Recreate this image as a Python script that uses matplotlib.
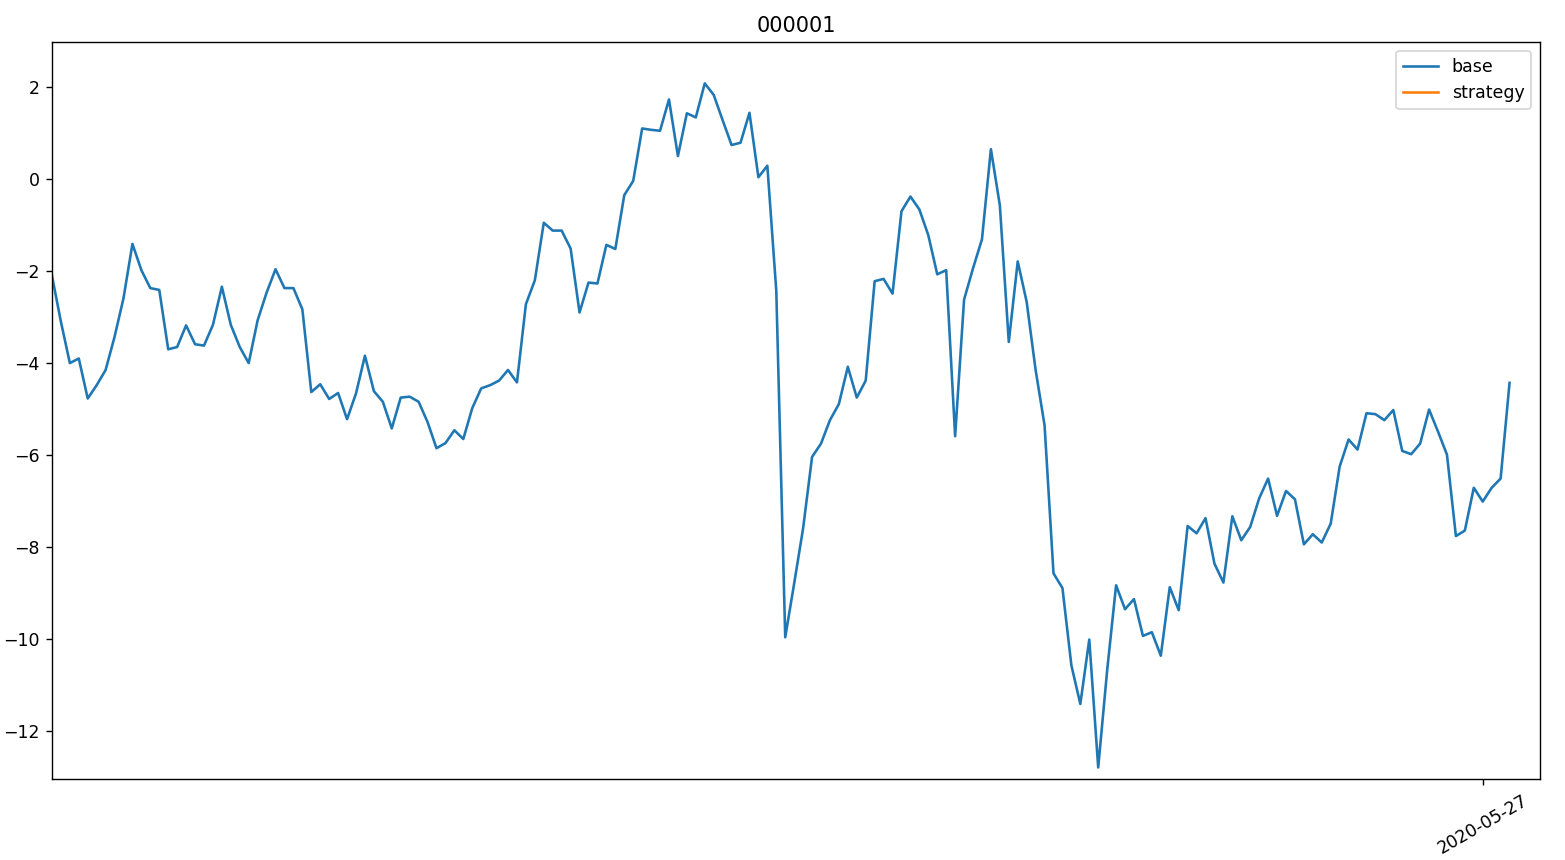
import matplotlib
matplotlib.use("Agg")
import matplotlib.pyplot as plt

# cumulative return of the base series (one value per trading day)
base = [
    -2.10, -3.10, -4.00, -3.90, -4.77, -4.48, -4.15, -3.43, -2.59, -1.41,
    -1.98, -2.37, -2.41, -3.70, -3.65, -3.18, -3.59, -3.62, -3.17, -2.34,
    -3.17, -3.65, -4.00, -3.07, -2.47, -1.96, -2.37, -2.37, -2.83, -4.63,
    -4.46, -4.78, -4.65, -5.22, -4.66, -3.84, -4.61, -4.84, -5.42, -4.75,
    -4.73, -4.84, -5.28, -5.85, -5.74, -5.46, -5.65, -4.98, -4.55, -4.48,
    -4.38, -4.15, -4.42, -2.72, -2.20, -0.95, -1.12, -1.12, -1.51, -2.90,
    -2.25, -2.27, -1.43, -1.52, -0.35, -0.04, 1.10, 1.07, 1.05, 1.73,
    0.50, 1.43, 1.34, 2.08, 1.83, 1.28, 0.74, 0.79, 1.44, 0.04,
    0.29, -2.43, -9.96, -8.79, -7.59, -6.04, -5.75, -5.24, -4.89, -4.08,
    -4.75, -4.38, -2.22, -2.17, -2.49, -0.70, -0.38, -0.66, -1.22, -2.07,
    -1.98, -5.59, -2.62, -1.94, -1.31, 0.65, -0.57, -3.54, -1.79, -2.67,
    -4.15, -5.35, -8.57, -8.89, -10.57, -11.41, -10.01, -12.79, -10.68, -8.83,
    -9.35, -9.13, -9.93, -9.85, -10.36, -8.87, -9.37, -7.54, -7.70, -7.37,
    -8.36, -8.77, -7.33, -7.85, -7.56, -6.94, -6.51, -7.32, -6.78, -6.96,
    -7.94, -7.72, -7.90, -7.49, -6.25, -5.66, -5.88, -5.09, -5.11, -5.24,
    -5.02, -5.91, -5.98, -5.75, -5.01, -5.49, -5.99, -7.76, -7.64, -6.71,
    -7.01, -6.71, -6.51, -4.43,
]
strategy = []  # no strategy values in this run

tick_pos = [160]
tick_labels = ["2020-05-27"]

fig = plt.figure(figsize=(12.52, 6.88), dpi=125)
ax = fig.add_axes([0.0332, 0.0942, 0.9508, 0.857])

ax.plot(range(len(base)), base, label="base")
ax.plot(range(len(strategy)), strategy, label="strategy")

ax.set_xlim(0, 166.4)
ax.set_ylim(-13.04, 2.98)
ax.set_xticks(tick_pos)
ax.set_xticklabels(tick_labels, rotation=30)
ax.set_title("000001")
ax.legend(loc="upper right")

fig.savefig("out.png", dpi=125)
